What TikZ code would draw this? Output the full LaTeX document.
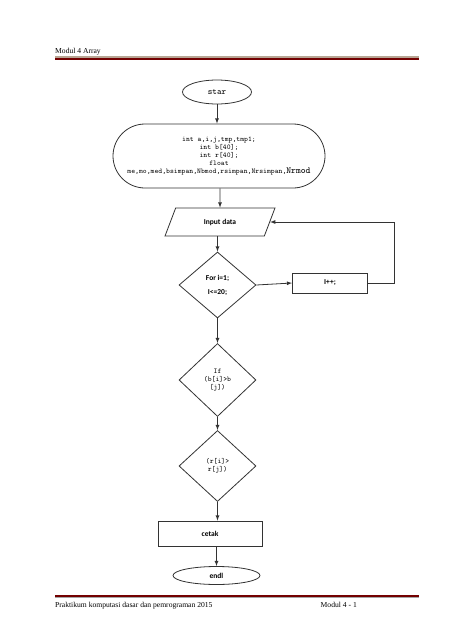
\documentclass[tikz,border=0pt]{standalone}
\usepackage{fontspec}
\setmainfont{Liberation Serif}
\newfontfamily\calibri{Carlito}
\usetikzlibrary{shapes.geometric}

\begin{document}
\begin{tikzpicture}[x=1pt, y=-1pt,
		flowline/.style={draw=black!80, line width=0.8pt},
		flowarrow/.style={flowline, ->, >=latex},
		codetext/.style={font=\fontsize{7.3}{8}\selectfont\ttfamily, align=center},
		labeltext/.style={font=\fontsize{7.5}{9}\selectfont\calibri\bfseries, align=center},
		pagetext/.style={anchor=base west, inner sep=0pt, font=\fontsize{7.6}{9}\selectfont}]
		
		% ==========================================
		% PAGE FRAME, HEADER & FOOTER
		% ==========================================
		\useasboundingbox[fill=white] (0,0) rectangle (474,632);
		
		\node[pagetext] (header) at (55,53) {Modul 4 Array};
		\draw[line width=1.3pt, gray!60!brown!70] (55,57) -- (419,57);
		\draw[line width=1.6pt, red!45!black] (55,59) -- (419,59);
		
		\draw[line width=1.6pt, red!45!black] (55,596) -- (419,596);
		\draw[line width=0.6pt, gray!70] (55,597.5) -- (419,597.5);
		\node[pagetext] (footleft) at (55,607) {Praktikum komputasi dasar dan pemrograman 2015};
		\node[pagetext] (footright) at (320.5,607) {Modul 4 - 1};
		
		% ==========================================
		% FLOWCHART NODES
		% ==========================================
		\node[ellipse, flowline, minimum width=69pt, minimum height=24pt, inner sep=0pt,
		      font=\fontsize{8.8}{9}\selectfont\ttfamily] (star) at (217,92) {star};
		
		\node[flowline, rounded corners=32pt, minimum width=212pt, minimum height=64pt, codetext] (decl) at (219,156)
			{int a,i,j,tmp,tmp1;\\ int b[40];\\ int r[40];\\ float\\
			 me,mo,med,bsimpan,Nbmod,rsimpan,Nrsimpan,{\fontsize{9.2}{8}\selectfont Nrmod}};
		
		\node[trapezium, trapezium left angle=59, trapezium right angle=121, trapezium stretches=true,
		      flowline, minimum width=110pt, minimum height=28pt, inner sep=0pt, labeltext] (input) at (220,222) {Input data};
		
		\node[diamond, flowline, minimum width=77pt, minimum height=66pt, inner sep=0pt, labeltext] (loop) at (217.5,285)
			{For i=1;\\[5pt] I<=20;};
		
		\node[rectangle, flowline, minimum width=75pt, minimum height=20pt, inner sep=0pt, labeltext] (incr) at (330,283) {I++;};
		
		\node[diamond, flowline, minimum width=77pt, minimum height=73pt, inner sep=0pt, codetext] (ifb) at (217.5,380)
			{If\\ (b[i]>b\\ {[j])}};
		
		\node[diamond, flowline, minimum width=77pt, minimum height=71pt, inner sep=0pt, codetext] (ifr) at (217.5,466)
			{(r[i]>\\ r[j])};
		
		\node[rectangle, flowline, minimum width=104pt, minimum height=25pt, inner sep=0pt, labeltext] (cetak) at (210,533.5) {cetak};
		
		\node[ellipse, flowline, minimum width=87pt, minimum height=18pt, inner sep=0pt, labeltext] (endl) at (216.5,575.5) {endl};
		
		% ==========================================
		% CONNECTORS
		% ==========================================
		\draw[flowarrow] (star.south) -- (star.south |- decl.north);
		\draw[flowarrow] (decl.south -| input) -- (input.north);
		\draw[flowarrow] (input.south -| loop) -- (loop.north);
		\draw[flowarrow] (loop.east) -- (incr.west);
		\draw[flowarrow] (incr.east) -- ++(26,0) |- (input.east);
		\draw[flowarrow] (loop.south) -- (ifb.north);
		\draw[flowarrow] (ifb.south) -- (ifr.north);
		\draw[flowarrow] (ifr.south) -- (ifr.south |- cetak.north);
		\draw[flowarrow] (cetak.south -| endl) -- (endl.north);
		
	\end{tikzpicture}
\end{document}
